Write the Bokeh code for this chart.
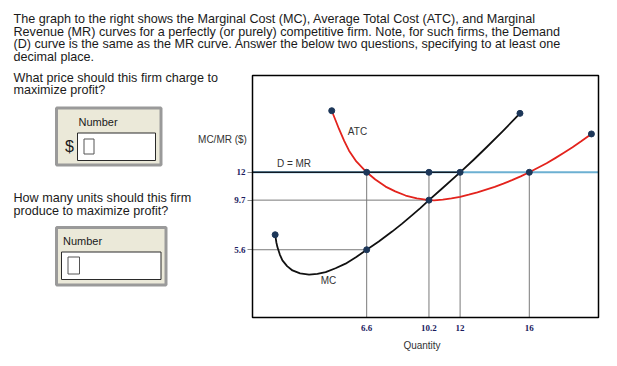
from bokeh.plotting import figure
from bokeh.models import Range1d, Label, BoxAnnotation, FixedTicker, NumeralTickFormatter
from bokeh.embed import file_html
from bokeh.resources import INLINE

# ---------------- data ----------------
mc_x = [1.31, 1.38, 1.44, 1.58, 1.73, 2.0, 2.31, 2.75, 3.27, 3.75, 4.23, 4.8, 5.38, 6.0, 6.6,
        7.3, 8.07, 8.65, 9.23, 9.7, 10.2, 10.96, 12.0, 12.8, 13.53, 14.5, 15.46]
mc_y = [6.84, 6.2, 5.82, 5.2, 4.72, 4.25, 3.89, 3.64, 3.54, 3.6, 3.75, 4.07, 4.45, 5.0, 5.6,
        6.28, 7.1, 7.76, 8.46, 9.04, 9.7, 10.66, 12.0, 13.06, 14.07, 15.45, 16.87]

atc_x = [4.58, 4.8, 5.0, 5.3, 5.58, 6.0, 6.6, 7.1, 7.69, 8.25, 8.85, 9.5, 10.2, 10.5, 11.0, 11.5,
         12.0, 12.5, 13.0, 13.5, 14.0, 14.5, 15.0, 15.5, 16.0, 16.5, 17.0, 17.5, 18.0, 18.5, 19.0, 19.59]
atc_y = [17.09, 16.3, 15.58, 14.6, 13.79, 12.9, 12.0, 11.4, 10.82, 10.42, 10.08, 9.84, 9.7, 9.68, 9.74, 9.84,
         9.97, 10.15, 10.35, 10.57, 10.8, 11.06, 11.35, 11.66, 12.0, 12.37, 12.75, 13.17, 13.61, 14.07, 14.56, 15.17]

price = 12.0                      # D = MR
mr_black_end = 12.0               # black part of the D = MR line
dot_x = [4.58, 19.59, 1.31, 15.46, 6.6, 10.2, 12.0, 16.0, 10.2, 6.6]
dot_y = [17.09, 15.17, 6.84, 16.87, 12.0, 12.0, 12.0, 12.0, 9.7, 5.6]

vguide_x = [6.6, 10.2, 12.0, 16.0]
vguide_top = [12.0, 12.0, 12.0, 12.0]
hguide_y = [9.7, 5.6]
hguide_right = [10.2, 6.6]

x_ticks = [6.6, 10.2, 12, 16]
y_ticks = [5.6, 9.7, 12]
x_min, x_max, y_min, y_max = 0, 20, 0, 20

paragraph = [
    "The graph to the right shows the Marginal Cost (MC), Average Total Cost (ATC), and Marginal",
    "Revenue (MR) curves for a perfectly (or purely) competitive firm. Note, for such firms, the Demand",
    "(D) curve is the same as the MR curve. Answer the below two questions, specifying to at least one",
    "decimal place.",
]
question1 = ["What price should this firm charge to", "maximize profit?"]
question2 = ["How many units should this firm", "produce to maximize profit?"]

# ---------------- layout geometry (pixels) ----------------
W, H = 609, 358
BOX_L, BOX_R, BOX_T, BOX_B = 252, 598, 75, 317     # chart box on the page
sx = (x_max - x_min) / (BOX_R - BOX_L)
sy = (y_max - y_min) / (BOX_B - BOX_T)

p = figure(width=W, height=H, output_backend="svg", toolbar_location=None,
           x_range=Range1d(x_min - BOX_L * sx, x_max + (W - BOX_R) * sx),
           y_range=Range1d(y_min - (H - BOX_B) * sy, y_max + BOX_T * sy),
           min_border=0)
p.title.visible = False
# page-pixel coordinate system for the surrounding texts and boxes
p.extra_x_ranges = {"page": Range1d(0, W)}
p.extra_y_ranges = {"page": Range1d(H, 0)}

p.grid.visible = False
p.outline_line_color = None
p.background_fill_color = "white"
p.border_fill_color = "white"

tick_font = "Liberation Serif"
tick_color = "#1b1b5e"
p.xaxis.ticker = FixedTicker(ticks=x_ticks)
p.yaxis.ticker = FixedTicker(ticks=y_ticks)
p.xaxis.formatter = NumeralTickFormatter(format="0.[0]")
p.yaxis.formatter = NumeralTickFormatter(format="0.[0]")
p.xaxis.fixed_location = y_min
p.yaxis.fixed_location = x_min
for ax in (p.xaxis, p.yaxis):
    ax.major_label_text_font = tick_font
    ax.major_label_text_font_style = "bold"
    ax.major_label_text_font_size = "9px"
    ax.major_label_text_color = tick_color
    ax.minor_tick_line_color = None
    ax.axis_line_color = None
p.xaxis.major_tick_line_color = None
p.xaxis.major_label_standoff = 1
p.yaxis.major_tick_in = 0
p.yaxis.major_tick_out = 5
p.yaxis.major_tick_line_color = "#8a8a8a"
p.yaxis.major_label_standoff = 2

# chart box
p.add_layout(BoxAnnotation(left=x_min, right=x_max, bottom=y_min, top=y_max,
                           fill_alpha=0, line_color="black", line_width=1.5, line_alpha=1.0))

# guide lines
p.segment(x0=vguide_x, y0=[y_min] * len(vguide_x), x1=vguide_x, y1=vguide_top,
          line_color="#7a7a7a", line_width=1)
p.segment(x0=[x_min] * len(hguide_y), y0=hguide_y, x1=hguide_right, y1=hguide_y,
          line_color="#7a7a7a", line_width=1)

# D = MR
p.line([x_min, x_max], [price, price], line_color="#6cb0d2", line_width=2)
p.line([x_min, mr_black_end], [price, price], line_color="#111a26", line_width=1.5)

# curves
p.line(atc_x, atc_y, line_color="#e3231d", line_width=1.8, line_join="round")
p.line(mc_x, mc_y, line_color="#111111", line_width=1.8, line_join="round")

p.scatter(dot_x, dot_y, size=6, fill_color="#1d3759", line_color="#1d3759")

# ---------------- texts and input boxes (page pixel positions) ----------------
def lab(x, y, text, size="12.6px", align="left", baseline="alphabetic", color="#1a1a1a"):
    p.add_layout(Label(x=x, y=y, text=text, x_range_name="page", y_range_name="page",
                       text_font="Liberation Sans", text_font_size=size, text_color=color,
                       text_align=align, text_baseline=baseline))

for i, line in enumerate(paragraph):
    lab(13, 18.5 + 12.5 * i, line)
for i, line in enumerate(question1):
    lab(13, 77.5 + 12 * i, line)
for i, line in enumerate(question2):
    lab(13, 197.5 + 12.5 * i, line)

# chart labels
lab(222, 138.5, "MC/MR ($)", size="10px", align="center", baseline="middle", color="#333333")
lab(357, 131, "ATC", size="10px", align="center", baseline="middle", color="#333333")
lab(293.5, 162.5, "D = MR", size="10px", align="center", baseline="middle", color="#333333")
lab(328, 280, "MC", size="10px", align="center", baseline="middle", color="#333333")
lab(421.5, 345, "Quantity", size="10px", align="center", baseline="middle", color="#333333")


def box(l, t, r, b, fill, line, lw):
    p.add_layout(BoxAnnotation(left=l, right=r, top=t, bottom=b,
                               x_range_name="page", y_range_name="page",
                               fill_color=fill, fill_alpha=1.0,
                               line_color=line, line_width=lw, line_alpha=1.0))

# input box 1
box(56, 107.5, 160.5, 164.5, "#ebe9d9", "#9a9a9a", 3)
box(77, 132.5, 155, 160, "white", "#2a2a2a", 1)
box(83.5, 138.5, 93.5, 153.5, "white", "#555555", 1)
lab(97.5, 121, "Number", size="11px", align="center", baseline="middle")
lab(69, 146, "$", size="16px", align="center", baseline="middle")

# input box 2
box(56, 227, 165.5, 284.5, "#ebe9d9", "#9a9a9a", 3)
box(61, 251.5, 160.5, 279, "white", "#2a2a2a", 1)
box(67.5, 256.5, 79, 273.5, "white", "#555555", 1)
lab(62.5, 240.5, "Number", size="11px", align="left", baseline="middle")

open("out.html", "w").write(file_html(p, INLINE))
